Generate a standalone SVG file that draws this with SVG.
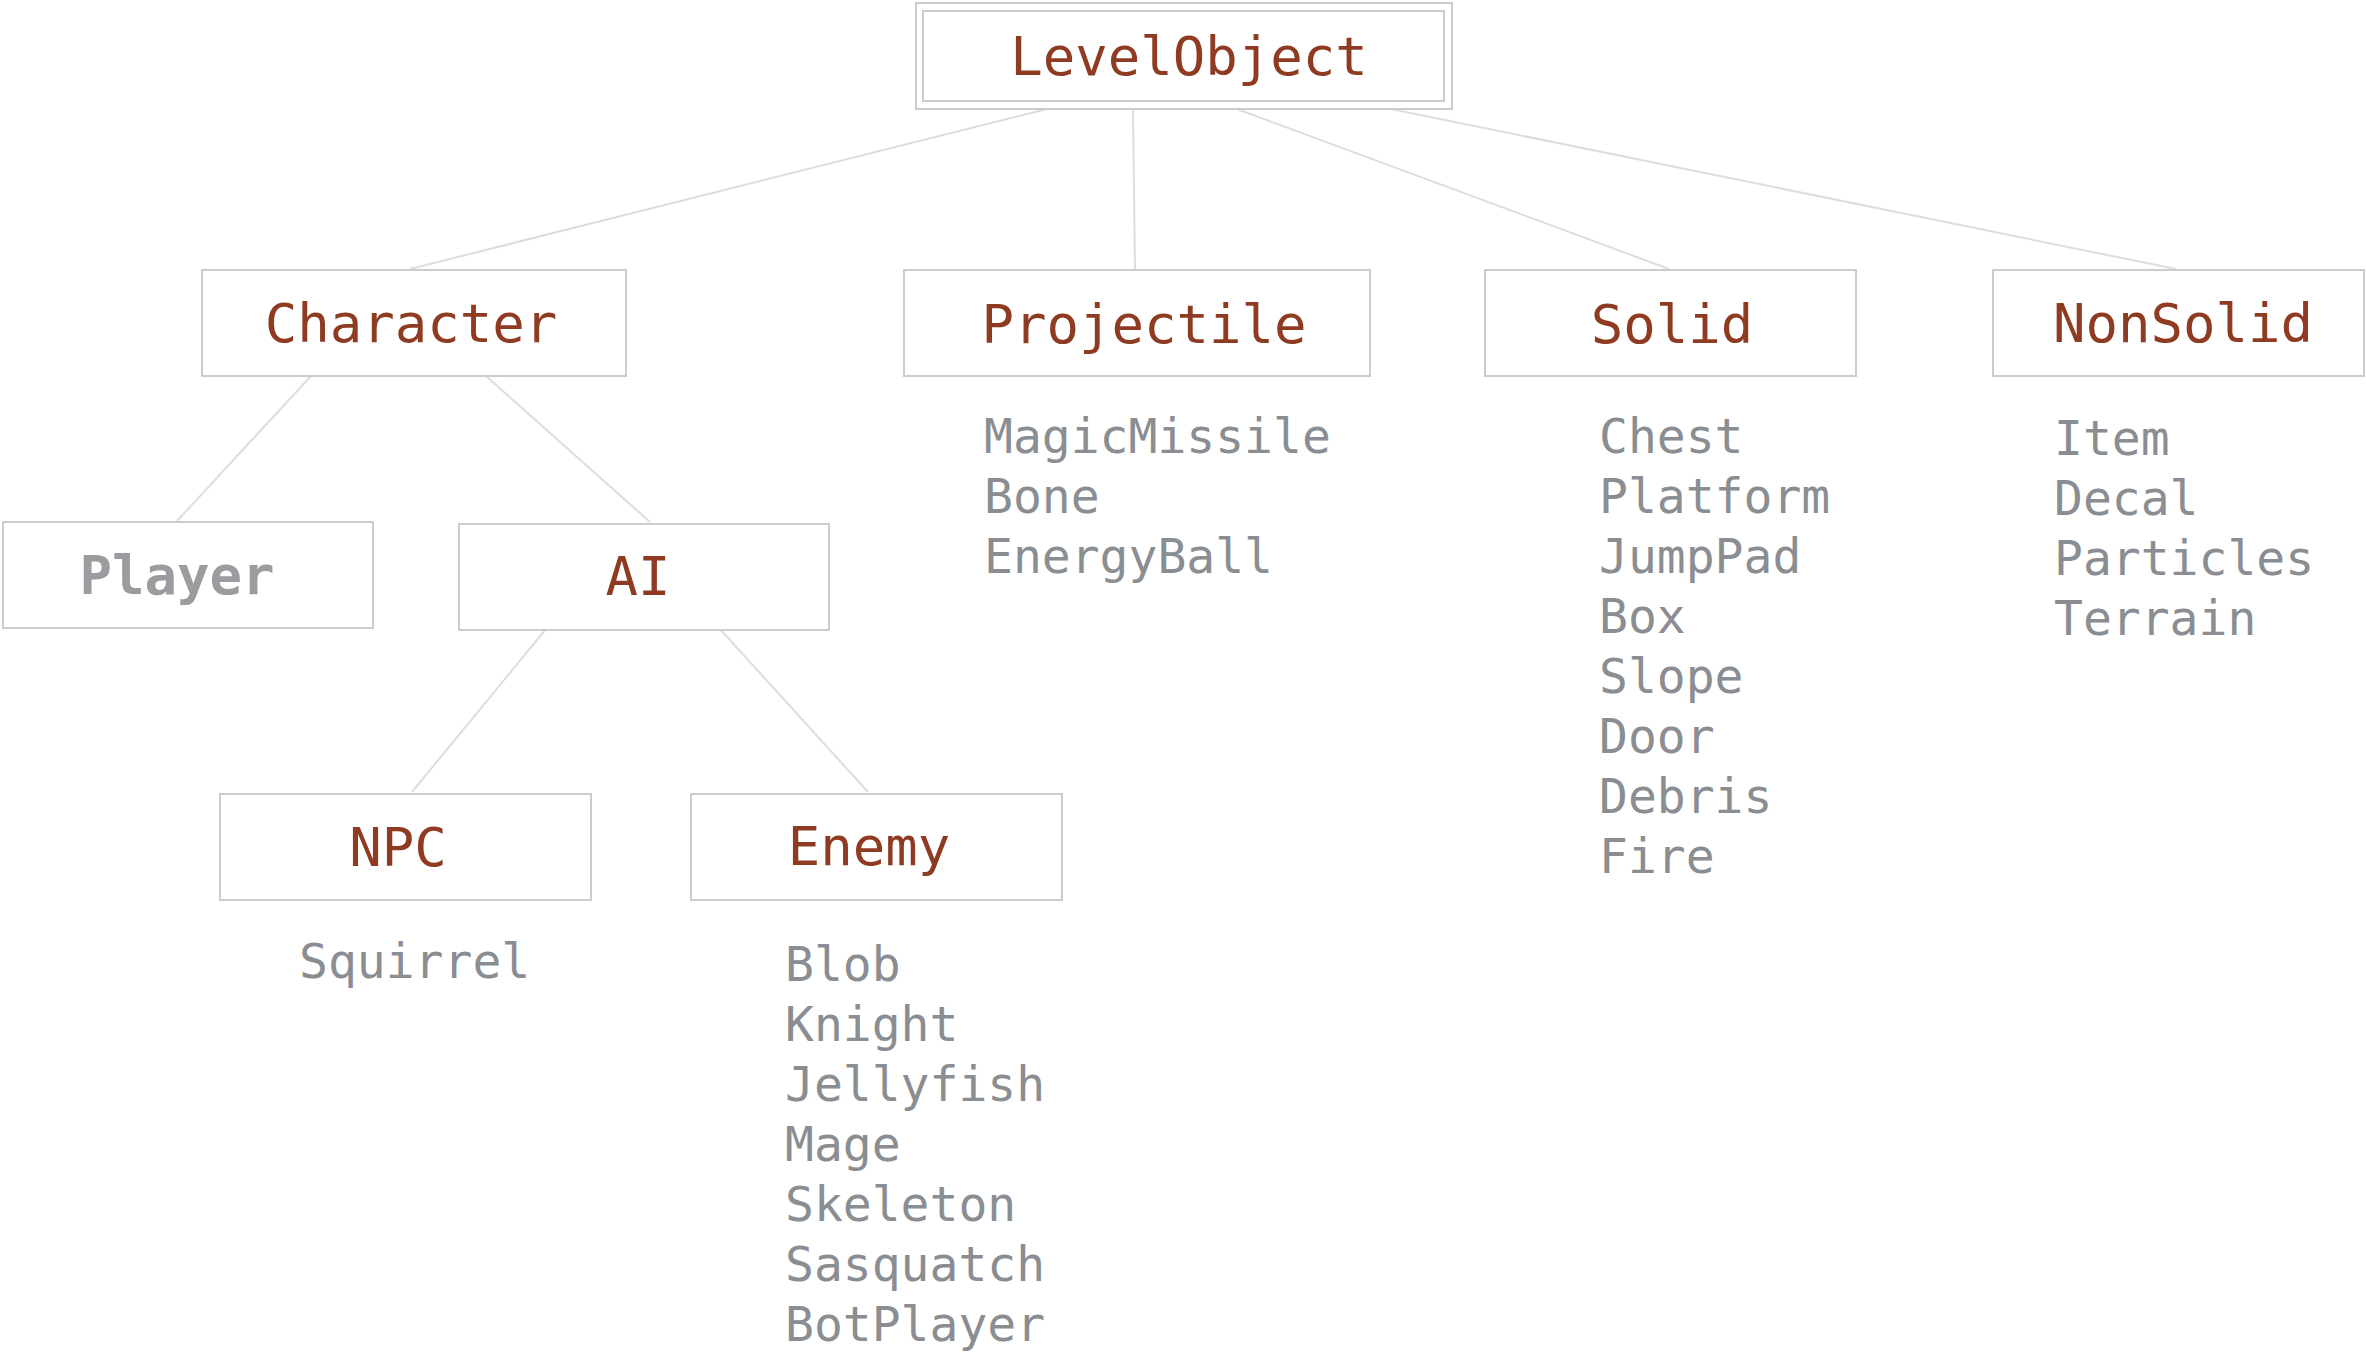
<svg xmlns="http://www.w3.org/2000/svg" width="2366" height="1353" viewBox="0 0 2366 1353">
<style>
.box{fill:#fff;stroke:#cccccc;stroke-width:2}
.t{font-family:"DejaVu Sans Mono",monospace;font-size:54px;fill:#8e3b22;text-anchor:middle}
.pl{font-family:"DejaVu Sans Mono",monospace;font-size:54px;fill:#9a9c9f;font-weight:bold;text-anchor:middle}
.l{font-family:"DejaVu Sans Mono",monospace;font-size:48px;fill:#8a8d91}
#edges line{stroke:#dddddd;stroke-width:2}
</style>
<rect width="2366" height="1353" fill="#fff"/>
<g id="edges">
<line x1="1047" y1="109" x2="410" y2="269"/>
<line x1="1133" y1="109" x2="1135" y2="269"/>
<line x1="1237" y1="109" x2="1669" y2="269"/>
<line x1="1391" y1="109" x2="2176" y2="269"/>
<line x1="311" y1="376" x2="177" y2="521"/>
<line x1="486" y1="376" x2="650" y2="522"/>
<line x1="546" y1="629" x2="412" y2="792"/>
<line x1="720" y1="629" x2="868" y2="792"/>
</g>
<g id="LevelObject"><rect class="box" x="916" y="3" width="536" height="106"/><rect class="box" x="923" y="11" width="521" height="90"/><text class="t" x="1189" y="75">LevelObject</text></g>
<g id="Character"><rect class="box" x="202" y="270" width="424" height="106"/><text class="t" x="411" y="342">Character</text></g>
<g id="Projectile"><rect class="box" x="904" y="270" width="466" height="106"/><text class="t" x="1144" y="343">Projectile</text>
<text class="l" x="984" y="453">MagicMissile</text><text class="l" x="984" y="513">Bone</text><text class="l" x="984" y="573">EnergyBall</text></g>
<g id="Solid"><rect class="box" x="1485" y="270" width="371" height="106"/><text class="t" x="1672" y="343">Solid</text>
<text class="l" x="1599" y="453">Chest</text><text class="l" x="1599" y="513">Platform</text><text class="l" x="1599" y="573">JumpPad</text><text class="l" x="1599" y="633">Box</text><text class="l" x="1599" y="693">Slope</text><text class="l" x="1599" y="753">Door</text><text class="l" x="1599" y="813">Debris</text><text class="l" x="1599" y="873">Fire</text></g>
<g id="NonSolid"><rect class="box" x="1993" y="270" width="371" height="106"/><text class="t" x="2183" y="342">NonSolid</text>
<text class="l" x="2054" y="455">Item</text><text class="l" x="2054" y="515">Decal</text><text class="l" x="2054" y="575">Particles</text><text class="l" x="2054" y="635">Terrain</text></g>
<g id="Player"><rect class="box" x="3" y="522" width="370" height="106"/><text class="pl" x="177" y="594">Player</text></g>
<g id="AI"><rect class="box" x="459" y="524" width="370" height="106"/><text class="t" x="638" y="595">AI</text></g>
<g id="NPC"><rect class="box" x="220" y="794" width="371" height="106"/><text class="t" x="398" y="866">NPC</text>
<text class="l" x="299" y="978">Squirrel</text></g>
<g id="Enemy"><rect class="box" x="691" y="794" width="371" height="106"/><text class="t" x="869" y="865">Enemy</text>
<text class="l" x="785" y="981">Blob</text><text class="l" x="785" y="1041">Knight</text><text class="l" x="785" y="1101">Jellyfish</text><text class="l" x="785" y="1161">Mage</text><text class="l" x="785" y="1221">Skeleton</text><text class="l" x="785" y="1281">Sasquatch</text><text class="l" x="785" y="1341">BotPlayer</text></g>
</svg>
